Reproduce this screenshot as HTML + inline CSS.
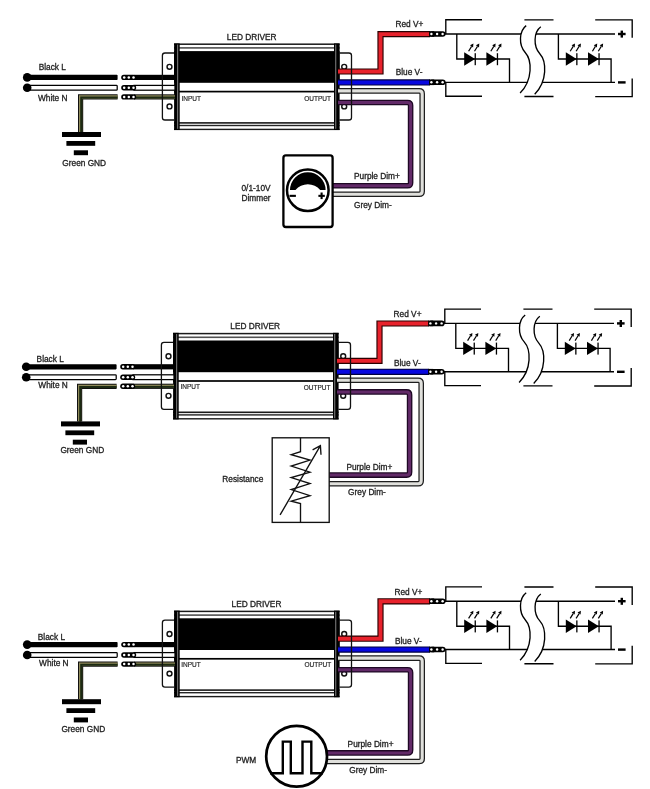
<!DOCTYPE html>
<html><head><meta charset="utf-8"><style>
html,body{margin:0;padding:0;background:#fff;}
svg{display:block;will-change:transform;}
</style></head><body>
<svg width="650" height="789" viewBox="0 0 650 789">
<defs><g id="common">
<circle cx="169.5" cy="66.8" r="2.45" fill="#fff" stroke="#111" stroke-width="1.45"/>
<circle cx="169.5" cy="106.4" r="2.45" fill="#fff" stroke="#111" stroke-width="1.45"/>
<circle cx="344.2" cy="66.8" r="2.45" fill="#fff" stroke="#111" stroke-width="1.45"/>
<circle cx="344.2" cy="106.4" r="2.45" fill="#fff" stroke="#111" stroke-width="1.45"/>
<rect x="174" y="43.4" width="165.6" height="86.6" fill="#fff"/>
<rect x="174" y="51.1" width="165.6" height="31.7" fill="#000"/>
<rect x="174" y="43.45" width="165.6" height="1.5" fill="#1a1a1a"/>
<rect x="174" y="47.1" width="165.6" height="1.6" fill="#505050"/>
<rect x="174" y="90.75" width="165.6" height="1.7" fill="#000"/>
<rect x="174" y="122.1" width="165.6" height="1.6" fill="#1a1a1a"/>
<rect x="174" y="124.8" width="165.6" height="1.4" fill="#262626"/>
<rect x="174" y="128.7" width="165.6" height="1.4" fill="#1a1a1a"/>
<rect x="174.1" y="43.4" width="5.6" height="86.6" fill="#000"/>
<rect x="177.0" y="44.6" width="1.2" height="84.2" fill="#6e6e6e"/>
<rect x="334.0" y="43.4" width="5.6" height="86.6" fill="#000"/>
<rect x="335.1" y="44.6" width="1.2" height="84.2" fill="#6e6e6e"/>
<rect x="27" y="74.80000000000001" width="90.6" height="5.2" rx="0.8" fill="#000"/>
<rect x="27.6" y="85.39999999999999" width="89.6" height="4.8" rx="0.8" fill="#fff" stroke="#000" stroke-width="1.25"/>
<circle cx="27.2" cy="77.4" r="4.3" fill="#000"/>
<circle cx="27.2" cy="87.8" r="4.3" fill="#000"/>
<path d="M80.6 132 V96.9 H117.6" fill="none" stroke="#111" stroke-width="5.2" stroke-linejoin="miter"/>
<path d="M80.6 132 V96.9 H117.6" fill="none" stroke="#8f8a5a" stroke-width="3.2" stroke-linejoin="miter"/>
<path d="M81.2 132 V97.5 H117.6" fill="none" stroke="#1c2a12" stroke-width="2.0" stroke-linejoin="miter"/>
<rect x="62" y="132" width="39" height="5" fill="#000"/>
<rect x="66.4" y="141" width="28.8" height="4.8" fill="#000"/>
<rect x="73.8" y="150.3" width="14.2" height="4.9" fill="#000"/>
<rect x="134" y="74.80000000000001" width="41" height="5.2" fill="#000"/>
<rect x="134" y="85.39999999999999" width="41" height="4.8" fill="#fff" stroke="#000" stroke-width="1.25"/>
<rect x="134" y="94.30000000000001" width="41" height="5.2" fill="#111"/>
<rect x="134" y="95.30000000000001" width="41" height="3.2" fill="#8f8a5a"/>
<rect x="134" y="96.5" width="41" height="2.0" fill="#1c2a12"/>
<rect x="121.2" y="74.7" width="15" height="5.4" rx="2.7" fill="#000"/>
<circle cx="124.2" cy="77.4" r="1.25" fill="#fff"/>
<circle cx="128.8" cy="77.4" r="1.25" fill="#fff"/>
<circle cx="133.5" cy="77.4" r="1.25" fill="#fff"/>
<rect x="121.2" y="85.1" width="15" height="5.4" rx="2.7" fill="#000"/>
<circle cx="124.2" cy="87.8" r="1.25" fill="#fff"/>
<circle cx="128.8" cy="87.8" r="1.25" fill="#fff"/>
<circle cx="133.5" cy="87.8" r="1.25" fill="#fff"/>
<rect x="121.2" y="94.2" width="15" height="5.4" rx="2.7" fill="#000"/>
<circle cx="124.2" cy="96.9" r="1.25" fill="#fff"/>
<circle cx="128.8" cy="96.9" r="1.25" fill="#fff"/>
<circle cx="133.5" cy="96.9" r="1.25" fill="#fff"/>
<path d="M338 71.5 H380.5 V34.1 H430" fill="none" stroke="#2a0000" stroke-width="6.2" stroke-linejoin="miter"/>
<path d="M338 71.5 H380.5 V34.1 H430" fill="none" stroke="#e8222c" stroke-width="3.9" stroke-linejoin="miter"/>
<path d="M338 82.4 H430" fill="none" stroke="#000040" stroke-width="6.3" stroke-linejoin="miter"/>
<path d="M338 82.4 H430" fill="none" stroke="#0808e0" stroke-width="4.0" stroke-linejoin="miter"/>
<path d="M338 90.9 H419.2 Q422.2 90.9 422.2 93.9 V191.3 Q422.2 194.3 419.2 194.3 H326" fill="none" stroke="#1e1e1e" stroke-width="5.6" stroke-linejoin="miter"/>
<path d="M338 90.9 H419.2 Q422.2 90.9 422.2 93.9 V191.3 Q422.2 194.3 419.2 194.3 H326" fill="none" stroke="#e0e0dc" stroke-width="3.1" stroke-linejoin="miter"/>
<path d="M338 102.5 H407.6 Q410.6 102.5 410.6 105.5 V182.7 Q410.6 185.7 407.6 185.7 H326" fill="none" stroke="#1e0824" stroke-width="5.6" stroke-linejoin="miter"/>
<path d="M338 102.5 H407.6 Q410.6 102.5 410.6 105.5 V182.7 Q410.6 185.7 407.6 185.7 H326" fill="none" stroke="#622a68" stroke-width="3.0" stroke-linejoin="miter"/>
<rect x="429.2" y="31.2" width="16.4" height="5.6" rx="2.8" fill="#000"/>
<rect x="429.2" y="31.2" width="5" height="5.6" fill="#000"/>
<circle cx="431.4" cy="34.0" r="1.2" fill="#fff"/>
<circle cx="437.1" cy="34.0" r="1.2" fill="#fff"/>
<circle cx="442.6" cy="34.0" r="1.2" fill="#fff"/>
<rect x="429.2" y="79.5" width="16.4" height="5.6" rx="2.8" fill="#000"/>
<rect x="429.2" y="79.5" width="5" height="5.6" fill="#000"/>
<circle cx="431.4" cy="82.3" r="1.2" fill="#fff"/>
<circle cx="437.1" cy="82.3" r="1.2" fill="#fff"/>
<circle cx="442.6" cy="82.3" r="1.2" fill="#fff"/>
<path d="M482 19.7 H445.8 V34" fill="none" stroke="#000" stroke-width="1.35"/>
<path d="M445.8 82.3 V96.2 H482" fill="none" stroke="#000" stroke-width="1.35"/>
<path d="M445 34 H615" fill="none" stroke="#000" stroke-width="1.35"/>
<path d="M445 82.3 H615" fill="none" stroke="#000" stroke-width="1.35"/>
<path d="M524.4 19.8 H553.5 M524.4 96.5 H553.5" fill="none" stroke="#000" stroke-width="1.35"/>
<path d="M595.2 19.8 H632.2 V37.7 M632.2 78.6 V96.6 H595.2" fill="none" stroke="#000" stroke-width="1.35"/>
<path d="M526.2 25.6 C519 31 518.5 45 525.2 52.5 C532 60 533 80 520.1 93 L534.7 94.2 C547.6 81.2 546.6 61.2 539.8 53.7 C533.1 46.2 533.6 32.2 540.8 26.8 Z" fill="#fff"/>
<path d="M526.2 25.6 C519 31 518.5 45 525.2 52.5 C532 60 533 80 520.1 93" fill="none" stroke="#000" stroke-width="1.35"/>
<path d="M540.8 26.8 C533.6 32.2 533.1 46.2 539.8 53.7 C546.6 61.2 547.6 81.2 534.7 94.2" fill="none" stroke="#000" stroke-width="1.35"/>
<rect x="618" y="32.8" width="7.6" height="2.4" fill="#000"/>
<rect x="620.6" y="30.6" width="2.4" height="7" fill="#000"/>
<rect x="618" y="81.2" width="7.6" height="2.4" fill="#000"/>
<path d="M456.8 34 V59 H509.5 V82.3" fill="none" stroke="#000" stroke-width="1.35"/>
<path d="M464.2 52.3 L464.2 65.7 L475 59 Z" fill="#000"/>
<rect x="474.6" y="53.2" width="1.3" height="12" fill="#000"/>
<path d="M468.6 51.2 L471.6 46.4" fill="none" stroke="#000" stroke-width="1.2"/>
<path d="M473.4 43.6 L470 45.3 L473.1 47.4 Z" fill="#000"/>
<path d="M474.5 51.2 L477.5 46.4" fill="none" stroke="#000" stroke-width="1.2"/>
<path d="M479.3 43.6 L475.9 45.3 L479 47.4 Z" fill="#000"/>
<path d="M486.4 52.3 L486.4 65.7 L497.2 59 Z" fill="#000"/>
<rect x="496.8" y="53.2" width="1.3" height="12" fill="#000"/>
<path d="M490.8 51.2 L493.8 46.4" fill="none" stroke="#000" stroke-width="1.2"/>
<path d="M495.6 43.6 L492.2 45.3 L495.3 47.4 Z" fill="#000"/>
<path d="M496.7 51.2 L499.7 46.4" fill="none" stroke="#000" stroke-width="1.2"/>
<path d="M501.5 43.6 L498.1 45.3 L501.2 47.4 Z" fill="#000"/>
<path d="M558.4 34 V59 H611.1 V82.3" fill="none" stroke="#000" stroke-width="1.35"/>
<path d="M565.8 52.3 L565.8 65.7 L576.6 59 Z" fill="#000"/>
<rect x="576.2" y="53.2" width="1.3" height="12" fill="#000"/>
<path d="M570.2 51.2 L573.2 46.4" fill="none" stroke="#000" stroke-width="1.2"/>
<path d="M575 43.6 L571.6 45.3 L574.7 47.4 Z" fill="#000"/>
<path d="M576.1 51.2 L579.1 46.4" fill="none" stroke="#000" stroke-width="1.2"/>
<path d="M580.9 43.6 L577.5 45.3 L580.6 47.4 Z" fill="#000"/>
<path d="M588 52.3 L588 65.7 L598.8 59 Z" fill="#000"/>
<rect x="598.4" y="53.2" width="1.3" height="12" fill="#000"/>
<path d="M592.4 51.2 L595.4 46.4" fill="none" stroke="#000" stroke-width="1.2"/>
<path d="M597.2 43.6 L593.8 45.3 L596.9 47.4 Z" fill="#000"/>
<path d="M598.3 51.2 L601.3 46.4" fill="none" stroke="#000" stroke-width="1.2"/>
<path d="M603.1 43.6 L599.7 45.3 L602.8 47.4 Z" fill="#000"/>
<path d="M174 53 H165 Q162.4 53 162.4 55.6 V117.4 Q162.4 120 165 120 H174" fill="none" stroke="#111" stroke-width="1.3"/>
<path d="M339.4 53 H348.9 Q351.5 53 351.5 55.6 V117.4 Q351.5 120 348.9 120 H339.4" fill="none" stroke="#111" stroke-width="1.3"/>
</g></defs>
<rect width="650" height="789" fill="#fff"/>
<g transform="translate(0 0)"><use href="#common"/></g>
<g transform="translate(-1 289.4)"><use href="#common"/></g>
<g transform="translate(0 567.2)"><use href="#common"/></g>
<rect x="283.4" y="155.4" width="49.2" height="71.6" rx="2.5" fill="#fff" stroke="#000" stroke-width="2.3"/>
<circle cx="307.8" cy="190.3" r="20.8" fill="#fff" stroke="#000" stroke-width="2.5"/>
<path d="M290 190 A17.8 17.8 0 0 1 325.6 190 L320.2 190 A16 16 0 0 0 295.5 190 Z" fill="#000"/>
<rect x="289.5" y="194.8" width="6.4" height="2.1" fill="#000"/>
<rect x="318.4" y="194.8" width="6.4" height="2.1" fill="#000"/>
<rect x="320.55" y="192.5" width="2.1" height="6.6" fill="#000"/>
<rect x="272.2" y="437.8" width="57" height="84.6" fill="#fff" stroke="#111" stroke-width="1.35"/>
<path d="M300.5 437.8 V451.7 L291.2 454.7 L310 460.1 L291.2 466.1 L310 472.2 L291.2 477.6 L310 483.6 L291.2 489.6 L310 495.7 L291.2 501.1 L300.5 503.5 V522.4" fill="none" stroke="#111" stroke-width="1.35"/>
<path d="M280.1 514.9 L320.4 445.7 M312.6 449.9 L320.4 445.7 L321 454.7" fill="none" stroke="#111" stroke-width="1.35"/>
<circle cx="296.6" cy="756.3" r="30.4" fill="#fff" stroke="#000" stroke-width="2.7"/>
<path d="M270 773.2 H282.8 V741.6 H290.8 V773.2 H302.5 V741.6 H311.3 V773.2 H323" fill="none" stroke="#000" stroke-width="2.4"/>
<text x="38.7" y="70.2" font-size="8.3" font-family="Liberation Sans, sans-serif" fill="#222" stroke="#222" stroke-width="0.3">Black L</text>
<text x="38" y="100.6" font-size="8.3" font-family="Liberation Sans, sans-serif" fill="#222" stroke="#222" stroke-width="0.3">White N</text>
<text x="62.3" y="166.2" font-size="8.3" font-family="Liberation Sans, sans-serif" fill="#222" stroke="#222" stroke-width="0.3">Green GND</text>
<text x="226.8" y="40" font-size="8.3" font-family="Liberation Sans, sans-serif" fill="#222" stroke="#222" stroke-width="0.3">LED DRIVER</text>
<text x="395.5" y="26.8" font-size="8.3" font-family="Liberation Sans, sans-serif" fill="#222" stroke="#222" stroke-width="0.3">Red V+</text>
<text x="395.7" y="74.8" font-size="8.3" font-family="Liberation Sans, sans-serif" fill="#222" stroke="#222" stroke-width="0.3">Blue V-</text>
<text x="354" y="179.2" font-size="8.3" font-family="Liberation Sans, sans-serif" fill="#222" stroke="#222" stroke-width="0.3">Purple Dim+</text>
<text x="354" y="207.7" font-size="8.3" font-family="Liberation Sans, sans-serif" fill="#222" stroke="#222" stroke-width="0.3">Grey Dim-</text>
<text x="241.5" y="190.9" font-size="8.3" font-family="Liberation Sans, sans-serif" fill="#222" stroke="#222" stroke-width="0.3">0/1-10V</text>
<text x="241.5" y="200.6" font-size="8.3" font-family="Liberation Sans, sans-serif" fill="#222" stroke="#222" stroke-width="0.3">Dimmer</text>
<text x="181.4" y="101.2" font-size="6.5" font-family="Liberation Sans, sans-serif" fill="#222" stroke="#222" stroke-width="0.15">INPUT</text>
<text x="304.3" y="100.9" font-size="6.5" font-family="Liberation Sans, sans-serif" fill="#222" stroke="#222" stroke-width="0.15">OUTPUT</text>
<text x="36.6" y="362.1" font-size="8.3" font-family="Liberation Sans, sans-serif" fill="#222" stroke="#222" stroke-width="0.3">Black L</text>
<text x="38.3" y="387.9" font-size="8.3" font-family="Liberation Sans, sans-serif" fill="#222" stroke="#222" stroke-width="0.3">White N</text>
<text x="60.4" y="453.4" font-size="8.3" font-family="Liberation Sans, sans-serif" fill="#222" stroke="#222" stroke-width="0.3">Green GND</text>
<text x="230.3" y="328.7" font-size="8.3" font-family="Liberation Sans, sans-serif" fill="#222" stroke="#222" stroke-width="0.3">LED DRIVER</text>
<text x="393.6" y="317.3" font-size="8.3" font-family="Liberation Sans, sans-serif" fill="#222" stroke="#222" stroke-width="0.3">Red V+</text>
<text x="393.9" y="365.8" font-size="8.3" font-family="Liberation Sans, sans-serif" fill="#222" stroke="#222" stroke-width="0.3">Blue V-</text>
<text x="346.4" y="469.7" font-size="8.3" font-family="Liberation Sans, sans-serif" fill="#222" stroke="#222" stroke-width="0.3">Purple Dim+</text>
<text x="348.1" y="495.4" font-size="8.3" font-family="Liberation Sans, sans-serif" fill="#222" stroke="#222" stroke-width="0.3">Grey Dim-</text>
<text x="222.3" y="481.8" font-size="8.3" font-family="Liberation Sans, sans-serif" fill="#222" stroke="#222" stroke-width="0.3">Resistance</text>
<text x="180.5" y="389.2" font-size="6.5" font-family="Liberation Sans, sans-serif" fill="#222" stroke="#222" stroke-width="0.15">INPUT</text>
<text x="303.8" y="389.5" font-size="6.5" font-family="Liberation Sans, sans-serif" fill="#222" stroke="#222" stroke-width="0.15">OUTPUT</text>
<text x="37.8" y="639.9" font-size="8.3" font-family="Liberation Sans, sans-serif" fill="#222" stroke="#222" stroke-width="0.3">Black L</text>
<text x="39.1" y="665.7" font-size="8.3" font-family="Liberation Sans, sans-serif" fill="#222" stroke="#222" stroke-width="0.3">White N</text>
<text x="61.4" y="731.7" font-size="8.3" font-family="Liberation Sans, sans-serif" fill="#222" stroke="#222" stroke-width="0.3">Green GND</text>
<text x="231.6" y="606.7" font-size="8.3" font-family="Liberation Sans, sans-serif" fill="#222" stroke="#222" stroke-width="0.3">LED DRIVER</text>
<text x="394.5" y="595.3" font-size="8.3" font-family="Liberation Sans, sans-serif" fill="#222" stroke="#222" stroke-width="0.3">Red V+</text>
<text x="394.9" y="643.8" font-size="8.3" font-family="Liberation Sans, sans-serif" fill="#222" stroke="#222" stroke-width="0.3">Blue V-</text>
<text x="347.6" y="747.3" font-size="8.3" font-family="Liberation Sans, sans-serif" fill="#222" stroke="#222" stroke-width="0.3">Purple Dim+</text>
<text x="349.2" y="773.1" font-size="8.3" font-family="Liberation Sans, sans-serif" fill="#222" stroke="#222" stroke-width="0.3">Grey Dim-</text>
<text x="236" y="763" font-size="8.3" font-family="Liberation Sans, sans-serif" fill="#222" stroke="#222" stroke-width="0.3">PWM</text>
<text x="181.2" y="667" font-size="6.5" font-family="Liberation Sans, sans-serif" fill="#222" stroke="#222" stroke-width="0.15">INPUT</text>
<text x="304.5" y="667" font-size="6.5" font-family="Liberation Sans, sans-serif" fill="#222" stroke="#222" stroke-width="0.15">OUTPUT</text>
</svg>
</body></html>
